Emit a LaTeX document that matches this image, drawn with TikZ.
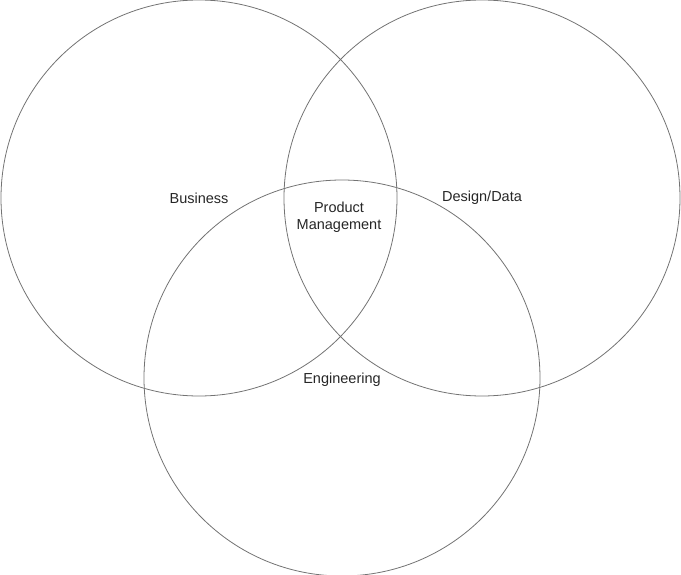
\documentclass[tikz,border=0pt]{standalone}
\usepackage{fontspec}
\setmainfont{Liberation Sans}
\begin{document}
\begin{tikzpicture}[x=1pt,y=-1pt]
\tikzset{set/.style={circle,draw=black!55,line width=0.8pt,minimum size=396pt,inner sep=0pt},
lbl/.style={font=\fontsize{14.5}{17}\selectfont,text=black!85,align=center}}
\useasboundingbox (0,0) rectangle (681,575);
\path (199,198) node[set] (biz) {};
\path (482,198) node[set] (des) {};
\path (342,378) node[set] (eng) {};
\path (199,198) node[lbl] (bizl) {Business};
\path (482,198) node[lbl] (desl) {Design/Data};
\path (339,217) node[lbl] (pm) {Product\\Management};
\path (342,380) node[lbl] (engl) {Engineering};
\end{tikzpicture}
\end{document}
